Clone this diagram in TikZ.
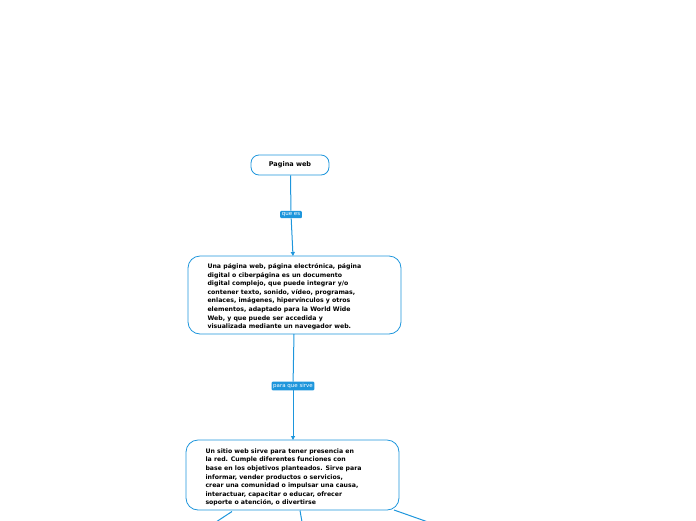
\documentclass[tikz,border=0pt]{standalone}
\usepackage{fontspec}
\setmainfont{DejaVu Sans}
\usetikzlibrary{arrows.meta}
\definecolor{bl}{RGB}{30,150,220}
\begin{document}
\begin{tikzpicture}[x=1pt,y=-1pt,
 box/.style={draw=bl,line width=0.8,rounded corners=12,fill=white,inner sep=0},
 lab/.style={fill=bl,text=white,font=\fontsize{5.5}{6}\selectfont,inner sep=1.6,rounded corners=1},
 con/.style={draw=bl,line width=1},
 txt/.style={font=\fontsize{6.2}{8.6}\selectfont\bfseries,align=left}]
\useasboundingbox (0,0) rectangle (696,520);
\node[box,minimum width=78,minimum height=20,rounded corners=8,font=\fontsize{6.5}{8}\selectfont\bfseries] (a) at (290,165) {Pagina web};
\node[box,minimum width=213,minimum height=78] (b) at (294.5,295) {};
\node[txt,anchor=north west] at (204,260) {Una página web, página electrónica, página\\digital o ciberpágina es un documento\\digital complejo, que puede integrar y/o\\contener texto, sonido, vídeo, programas,\\enlaces, imágenes, hipervínculos y otros\\elementos, adaptado para la World Wide\\Web, y que puede ser accedida y\\visualizada mediante un navegador web.};
\node[box,minimum width=213,minimum height=70] (c) at (292.5,475) {};
\node[txt,anchor=north west] at (202,445) {Un sitio web sirve para tener presencia en\\la red. Cumple diferentes funciones con\\base en los objetivos planteados. Sirve para\\informar, vender productos o servicios,\\crear una comunidad o impulsar una causa,\\interactuar, capacitar o educar, ofrecer\\soporte o atención, o divertirse};
\node[lab] (l1) at (291,214.5) {que es};
\node[lab] (l2) at (293,386) {para que sirve};
\draw[con] (a.south -| 290.5,0) -- (l1);
\draw[con,-{Triangle[length=4,width=4]}] (l1) -- (293,256);
\draw[con] (294,334) -- (l2);
\draw[con,-{Triangle[length=4,width=4]}] (l2) -- (293,440);
\coordinate (e1) at (216,522); \coordinate (e2) at (302,522); \coordinate (e3) at (428,522);
\draw[con] (232,511.5) -- (e1);
\draw[con] (300,510.5) -- (e2);
\draw[con] (394,510) -- (e3);
\end{tikzpicture}
\end{document}
